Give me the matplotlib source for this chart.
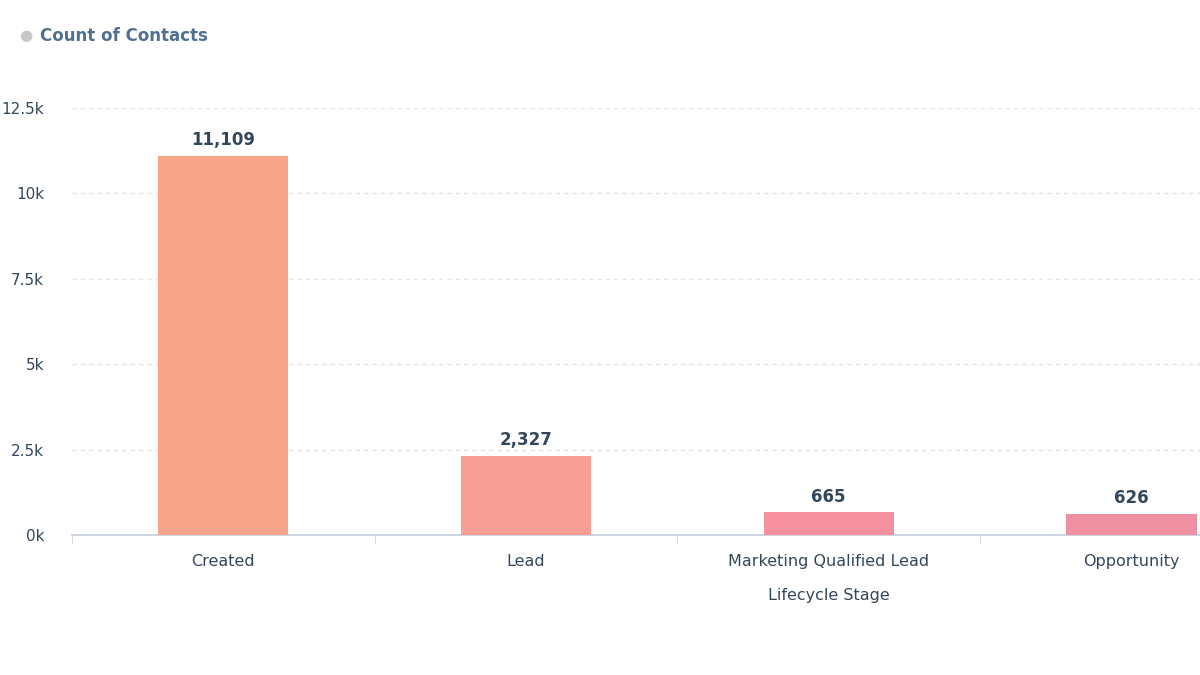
import matplotlib
matplotlib.use("Agg")
import matplotlib.pyplot as plt

categories = ["Created", "Lead", "Marketing Qualified Lead", "Opportunity"]
values = [11109, 2327, 665, 626]
colors = ["#f9a58c", "#f89e96", "#f5909e", "#ee8fa2"]
yticks = [0, 2500, 5000, 7500, 10000, 12500]
ytick_labels = ["0k", "2.5k", "5k", "7.5k", "10k", "12.5k"]

fig = plt.figure(figsize=(12, 6.75), dpi=100)
ax = fig.add_axes([0.06, 0.2074, 1.009, 0.6326])
x = list(range(len(categories)))
ax.bar(x, values, width=0.43, color=colors, zorder=3)
for xi, v in zip(x, values):
    ax.text(xi, v + 180, f"{v:,}", ha="center", va="bottom", fontsize=12,
            fontweight="bold", color="#33475b")
ax.set_xlim(-0.5, 3.5)
ax.set_ylim(0, 12500)
ax.set_yticks(yticks)
ax.set_yticklabels(ytick_labels, fontsize=11, color="#33475b")
ax.set_xticks(x)
ax.set_xticklabels(categories, fontsize=11.5, color="#33475b")
ax.set_xticks([-0.5, 0.5, 1.5, 2.5, 3.5], minor=True)
ax.tick_params(axis="x", which="major", length=0, pad=14)
ax.tick_params(axis="x", which="minor", length=6, color="#cbd6e2")
ax.tick_params(axis="y", length=0, pad=20)
for lab in ax.get_yticklabels():
    lab.set_horizontalalignment("right")
ax.grid(axis="y", linestyle=(0, (3, 3)), color="#dfe3eb", linewidth=1, zorder=0)
for s in ["top", "right", "left"]:
    ax.spines[s].set_visible(False)
ax.spines["bottom"].set_color("#cbd6e2")
ax.spines["bottom"].set_linewidth(1.5)
ax.set_xlabel("Lifecycle Stage", fontsize=11.5, color="#33475b", labelpad=8)
ax.xaxis.set_label_coords((829 - 72) / (1283 - 72), -0.125)

fig.text(0.016, 0.947, "●", fontsize=11, color="#c8c8c8", va="center")
fig.text(0.033, 0.946, "Count of Contacts", fontsize=12, fontweight="bold",
         color="#516f90", va="center")
fig.savefig("out.png", dpi=100)
